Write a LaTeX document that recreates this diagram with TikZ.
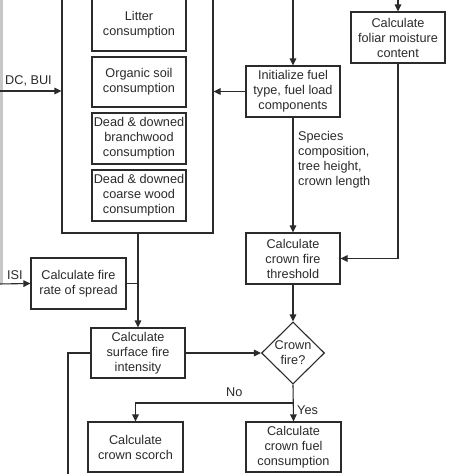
\documentclass[tikz,border=0pt]{standalone}
\usepackage{fontspec}
\setmainfont{Liberation Sans}
\usetikzlibrary{arrows.meta,shapes.geometric}
\definecolor{ink}{HTML}{2B2B2B}
\begin{document}
\begin{tikzpicture}[x=1pt,y=-1pt,
  every node/.style={font=\fontsize{12.7}{15}\selectfont, text=ink},
  box/.style={draw=ink, line width=1.1pt, rectangle, inner sep=0pt, align=center, fill=white},
  conn/.style={draw=ink, line width=1.1pt},
  arr/.style={conn, -{Triangle[length=7pt,width=6.5pt]}},
  lbl/.style={inner sep=0pt, align=left}
]
\useasboundingbox (0,0) rectangle (474,474);
\clip (0,0) rectangle (474,474);
\fill[white] (0,0) rectangle (474,474);

% containing box
\node[box, minimum width=151, minimum height=243] (big) at (137.5,111.5) {};
\node[box, minimum width=94, minimum height=53] (litter) at (139,24.5) {Litter\\consumption};
\node[box, minimum width=94, minimum height=50] (organic) at (139,82) {Organic soil\\consumption};
\node[box, minimum width=94, minimum height=51] (branch) at (139,138.5) {Dead \& downed\\branchwood\\consumption};
\node[box, minimum width=94, minimum height=51] (coarse) at (139,195.5) {Dead \& downed\\coarse wood\\consumption};

\node[box, minimum width=94, minimum height=51] (init) at (293,91.5) {Initialize fuel\\type, fuel load\\components};
\node[box, minimum width=94, minimum height=51] (foliar) at (398,37.5) {Calculate\\foliar moisture\\content};
\node[box, minimum width=94, minimum height=51] (thresh) at (293,258.5) {Calculate\\crown fire\\threshold};
\node[box, minimum width=95, minimum height=51] (ros) at (78.5,283.5) {Calculate fire\\rate of spread};
\node[box, minimum width=94, minimum height=50] (surface) at (138,353) {Calculate\\surface fire\\intensity};
\node[draw=ink, line width=1.1pt, diamond, inner sep=0pt, minimum width=63, minimum height=62,
      label={[align=center, inner sep=0pt]center:Crown\\fire?}] (crown) at (293,353) {};
\node[box, minimum width=95, minimum height=50] (scorch) at (135.5,447) {Calculate\\crown scorch};
\node[box, minimum width=95, minimum height=50] (fuel) at (293.5,447) {Calculate\\crown fuel\\consumption};

% free ends
\coordinate (topinit) at (293,-5);
\coordinate (topfol) at (398,-5);
\coordinate (dcin) at (0,91);
\coordinate (isiin) at (-2,284);
\coordinate (edgetop) at (1.5,-5);
\coordinate (edgebot) at (1.5,284);
\coordinate (surfcorner) at (68,353);
\coordinate (surfdown) at (68,480);
\coordinate (nofork) at (293,403);
\coordinate (nocorner) at (135.5,403);

% left edge line
\draw[draw=black!22, line width=2.5pt] (edgetop) -- (edgebot);

% connectors
\draw[arr] (topinit) -- (init.north);
\draw[arr] (topfol) -- (foliar.north);
\draw[arr] (dcin) -- (dcin -| big.west);
\node[lbl, anchor=south west] (dclbl) at (5,86) {DC, BUI};
\draw[arr] (init.west) -- (init.west -| big.east);
\draw[arr] (init.south) -- (thresh.north);
\node[lbl, anchor=west] (species) at (298,159.5) {Species\\composition,\\tree height,\\crown length};
\draw[arr] (foliar.south) |- (thresh.east);
\draw[arr] (isiin) -- (ros.west);
\node[lbl, anchor=south west] (isilbl) at (7,280) {ISI};
\draw[arr] (surface.north |- big.south) -- (surface.north);
\draw[conn] (ros.east) -- (ros.east -| surface.north);
\draw[arr] (thresh.south) -- (crown.north);
\draw[arr] (surface.east) -- (crown.west);
\draw[conn] (surface.west) -- (surfcorner) -- (surfdown);
\draw[arr] (crown.south) -- (fuel.north);
\node[lbl, anchor=west] (yeslbl) at (297,410) {Yes};
\draw[arr] (nofork) -- (nocorner) -- (scorch.north);
\node[lbl, anchor=south west] (nolbl) at (226,397) {No};
\end{tikzpicture}
\end{document}
